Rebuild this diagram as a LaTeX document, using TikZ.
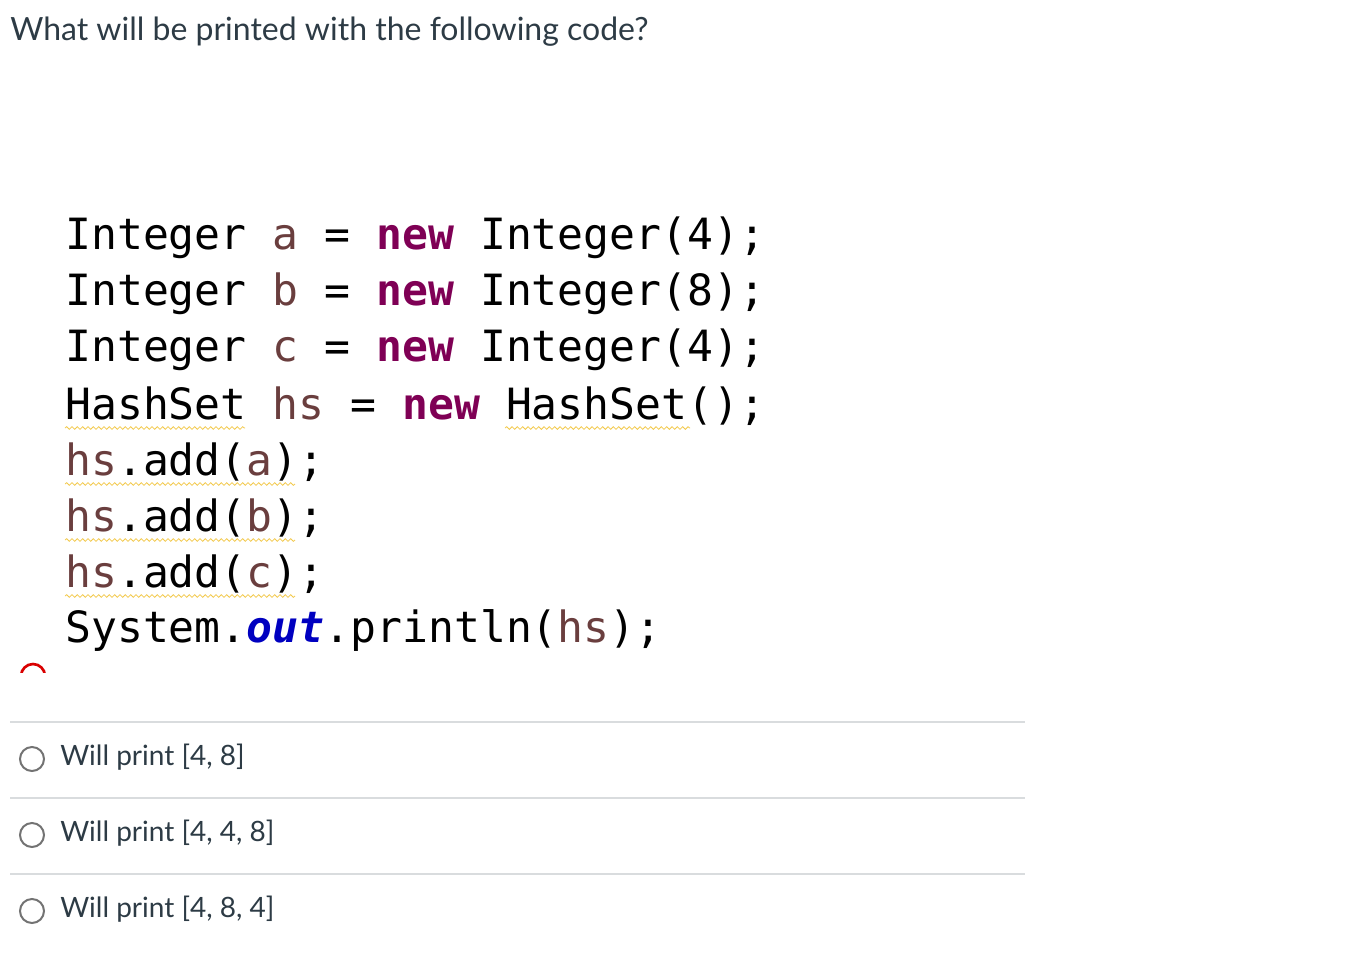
\documentclass[tikz,border=0pt]{standalone}
\usepackage{fontspec}
\setmainfont{Lato}
\newfontfamily\codefont{DejaVu Sans Mono}
\usetikzlibrary{decorations.pathmorphing}
\definecolor{txt}{HTML}{2D3B45}
\definecolor{var}{HTML}{6A3E3E}
\definecolor{kw}{HTML}{7F0055}
\definecolor{fld}{HTML}{0000C0}
\definecolor{sep}{HTML}{D9DCDE}
\definecolor{wav}{HTML}{F2C94C}
\begin{document}
\begin{tikzpicture}[x=0.75pt,y=-0.75pt,
  code/.style={anchor=west,inner sep=0pt,font=\codefont\fontsize{32.3}{32.3}\selectfont},
  opt/.style={anchor=west,inner sep=0pt,text=txt,font=\fontsize{21}{21}\selectfont},
  radio/.style={draw=gray!90!black,line width=1.5pt,circle,minimum size=18pt,inner sep=0pt},
  wavy/.style={draw=wav,line width=0.6pt,decorate,decoration={snake,amplitude=1pt,segment length=4pt}}]
\useasboundingbox (0,0) rectangle (1363,965);
\node[anchor=west,inner sep=0pt,text=txt,font=\fontsize{24}{24}\selectfont] (q) at (10,32) {What will be printed with the following code?};
\node[code] (l1) at (65,238) {Integer {\color{var}a} = {\color{kw}\bfseries new} Integer(4);};
\node[code] (l2) at (65,294) {Integer {\color{var}b} = {\color{kw}\bfseries new} Integer(8);};
\node[code] (l3) at (65,350) {Integer {\color{var}c} = {\color{kw}\bfseries new} Integer(4);};
\node[code] (l4) at (65,406) {HashSet {\color{var}hs} = {\color{kw}\bfseries new} HashSet();};
\node[code] (l5) at (65,462) {{\color{var}hs}.add({\color{var}a});};
\node[code] (l6) at (65,518) {{\color{var}hs}.add({\color{var}b});};
\node[code] (l7) at (65,574) {{\color{var}hs}.add({\color{var}c});};
\node[code] (l8) at (65,630) {System.{\color{fld}\bfseries\itshape out}.println({\color{var}hs});};
\coordinate (w1a) at (65,428); \coordinate (w1b) at (245,428);
\coordinate (w2a) at (505,428); \coordinate (w2b) at (690,428);
\coordinate (w3a) at (65,484); \coordinate (w3b) at (295,484);
\coordinate (w4a) at (65,540); \coordinate (w4b) at (295,540);
\coordinate (w5a) at (65,596); \coordinate (w5b) at (295,596);
\path[wavy] (w1a) -- (w1b); \path[wavy] (w2a) -- (w2b);
\path[wavy] (w3a) -- (w3b); \path[wavy] (w4a) -- (w4b); \path[wavy] (w5a) -- (w5b);
\begin{scope}
\clip (15,655) rectangle (55,672);
\draw[red!85!black,line width=2pt] (33,676) circle[radius=12];
\end{scope}
\coordinate (s1a) at (10,722); \coordinate (s1b) at (1025,722);
\coordinate (s2a) at (10,798); \coordinate (s2b) at (1025,798);
\coordinate (s3a) at (10,874); \coordinate (s3b) at (1025,874);
\draw[sep,line width=1.5pt] (s1a) -- (s1b) (s2a) -- (s2b) (s3a) -- (s3b);
\node[radio] (r1) at (32,759) {};
\node[radio] (r2) at (32,835) {};
\node[radio] (r3) at (32,911) {};
\node[opt] (o1) at (60,757) {Will print [4, 8]};
\node[opt] (o2) at (60,833) {Will print [4, 4, 8]};
\node[opt] (o3) at (60,909) {Will print [4, 8, 4]};
\end{tikzpicture}
\end{document}
